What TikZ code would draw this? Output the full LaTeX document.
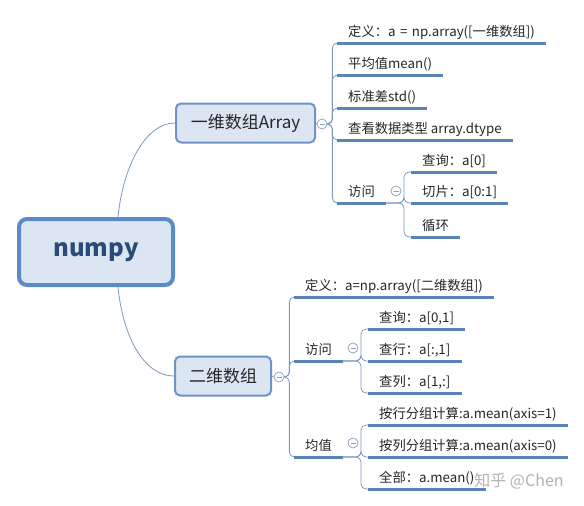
\documentclass[tikz,border=0pt]{standalone}
\usepackage{fontspec}
\setmainfont{Noto Sans CJK SC}
\usepackage{pgf,tikz}
\usetikzlibrary{backgrounds}
\definecolor{bordeRaiz}{HTML}{5B8AC9}
\definecolor{bordeTema}{HTML}{6F93C6}
\definecolor{fondoTema}{HTML}{DCE6F2}
\definecolor{textoRaiz}{HTML}{2C4A77}
\definecolor{lineaHoja}{HTML}{5A84B6}
\definecolor{lineaConector}{HTML}{7E98BE}
\definecolor{bordePlegar}{HTML}{8AA0BE}
\tikzstyle{raiz} = [draw=bordeRaiz, fill=fondoTema, line width=4pt, rectangle, rounded corners=8pt, minimum width=154pt, minimum height=66pt, text=textoRaiz, font=\fontsize{24}{28}\selectfont\bfseries]
\tikzstyle{tema} = [draw=bordeTema, fill=fondoTema, line width=2pt, rectangle, rounded corners=5pt, minimum height=39pt, inner sep=0pt, text=black!85, font=\fontsize{17}{20}\selectfont]
\tikzstyle{hoja} = [anchor=south west, inner xsep=11pt, inner ysep=3pt, text depth=3pt, text=black!85, font=\fontsize{13.3}{16}\selectfont]
\tikzstyle{subrayado} = [draw=lineaHoja, line width=3pt]
\tikzstyle{conector} = [draw=lineaConector, line width=0.8pt, rounded corners=5pt]
\tikzstyle{plegar} = [circle, draw=bordePlegar, fill=white, line width=0.7pt, minimum size=10pt, inner sep=0pt, path picture={\draw[bordePlegar, line width=0.7pt] ([xshift=-2.5pt]path picture bounding box.center) -- ([xshift=2.5pt]path picture bounding box.center);}]
\tikzstyle{marca} = [text=black!30, font=\fontsize{16}{18}\selectfont]

\begin{document}
\begin{tikzpicture}[x=1pt, y=-1pt]
	\useasboundingbox (0,0) rectangle (584,506);

	% centro y temas
	\node[raiz] (numpy) at (96,252) {numpy};
	\node[tema, minimum width=139pt] (t1) at (245.5,123) {一维数组Array};
	\node[tema, minimum width=96pt] (t2) at (223,376) {二维数组};
	\node[plegar] (c1) at (322,124) {};
	\node[plegar] (c2) at (279,377) {};

	% hojas del primer tema
	\node[hoja] (d1) at (337,43) {定义：a\kern1.5pt{} =\kern1.5pt{} np.array([一维数组])};
	\node[hoja] (m1) at (337,75) {平均值mean()};
	\node[hoja] (s1) at (337,108) {标准差std()};
	\node[hoja] (y1) at (337,140) {查看数据类型 array.dtype};
	\node[hoja] (a1) at (337,203) {访问};
	\node[plegar] (ca1) at (396,191) {};
	\coordinate (e1) at (404,203);
	\node[hoja] (q1) at (411,172) {查询：a[0]};
	\node[hoja] (p1) at (411,203) {切片：a[0:1]};
	\node[hoja] (l1) at (411,237) {循环};

	% hojas del segundo tema
	\node[hoja] (d2) at (294,297) {定义：a=np.array([二维数组])};
	\node[hoja] (a2) at (294,361) {访问};
	\node[hoja] (u2) at (294,457) {均值};
	\node[plegar] (ca2) at (353,348) {};
	\node[plegar] (cu2) at (353,443) {};
	\coordinate (e2) at (361,361);
	\coordinate (e3) at (361,457);
	\node[hoja] (q2) at (368,329) {查询：a[0,1]};
	\node[hoja] (r2) at (368,361) {查行：a[:,1]};
	\node[hoja] (k2) at (368,393) {查列：a[1,:]};
	\node[hoja] (h2) at (368,425) {按行分组计算:a.mean(axis=1)};
	\node[hoja] (v2) at (368,457) {按列分组计算:a.mean(axis=0)};
	\node[hoja] (w2) at (368,489) {全部：a.mean()};

	\foreach \n in {d1,m1,s1,y1,a1,q1,p1,l1,d2,a2,u2,q2,r2,k2,h2,v2,w2}
		\draw[subrayado] (\n.south west) -- (\n.south east);

	\begin{scope}[on background layer]
		\draw[conector] ([xshift=22pt]numpy.north) .. controls +(5,-50) and +(-30,0) .. (t1.west);
		\draw[conector] ([xshift=22pt]numpy.south) .. controls +(5,50) and +(-30,0) .. (t2.west);
		\draw[conector] (t1.east) -- (c1.west);
		\draw[conector] (t2.east) -- (c2.west);
		\foreach \h in {d1,m1,s1,y1,a1}
			\draw[conector] (c1.east) -- ++(5,0) |- (\h.south west);
		\foreach \h in {q1,p1,l1}
			\draw[conector] (a1.south east) -- (e1) |- (\h.south west);
		\foreach \h in {d2,a2,u2}
			\draw[conector] (c2.east) -- ++(5,0) |- (\h.south west);
		\foreach \h in {q2,r2,k2}
			\draw[conector] (a2.south east) -- (e2) |- (\h.south west);
		\foreach \h in {h2,v2,w2}
			\draw[conector] (u2.south east) -- (e3) |- (\h.south west);
	\end{scope}

	\node[marca] (zh) at (519,481) {知乎 @Chen};
\end{tikzpicture}
\end{document}
